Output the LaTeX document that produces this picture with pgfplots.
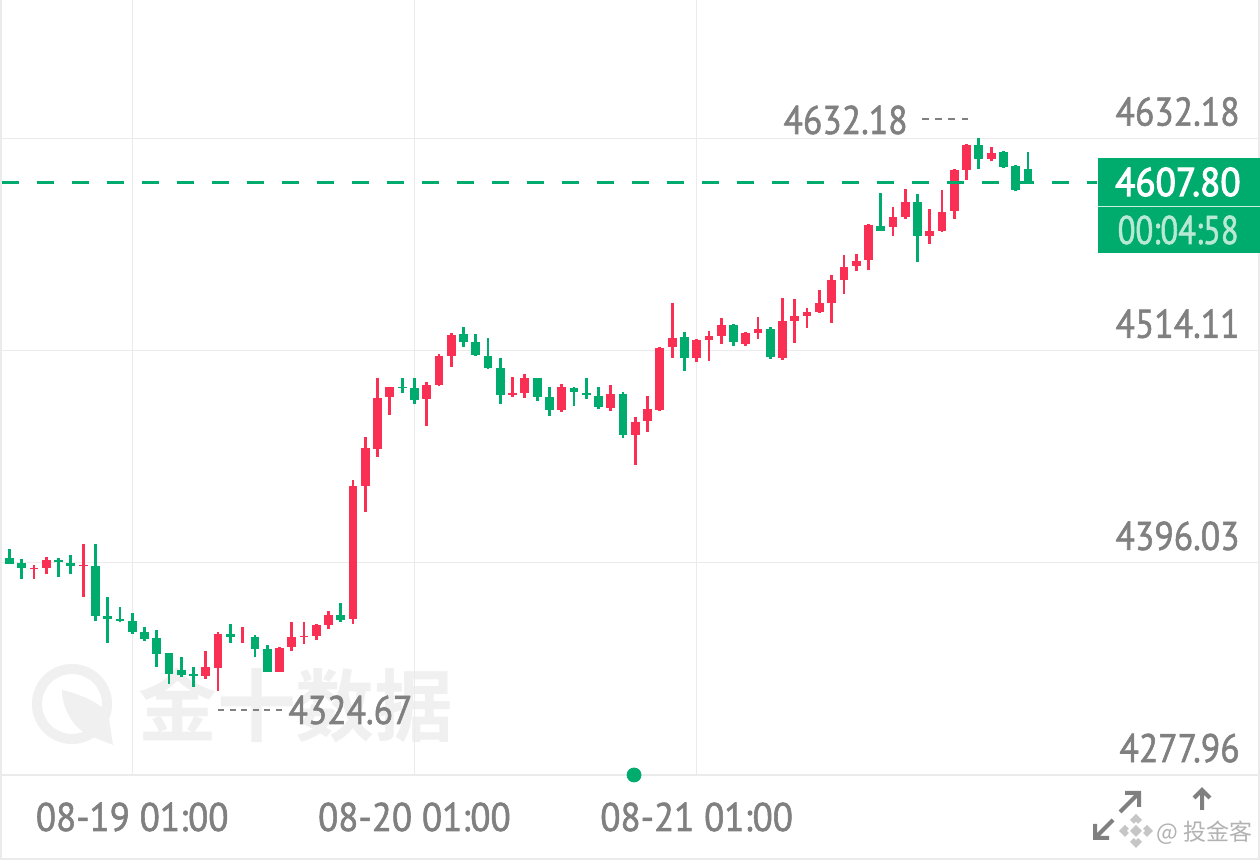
\documentclass[border=0pt]{standalone}
\usepackage{pgfplots}
\usepackage{pgfplotstable}
\usepackage{fontspec}
\pgfplotsset{compat=1.18}
\setmainfont{PT Sans}
\newfontfamily\din[FakeStretch=0.89,FakeBold=1.4]{PT Sans}
\newfontfamily\dinx[FakeStretch=0.925,FakeBold=1.4]{PT Sans}
\newfontfamily\dint[FakeStretch=0.815,FakeBold=1.4]{PT Sans}
\newfontfamily\dinb[FakeStretch=0.93,FakeBold=2.6]{PT Sans}
\newfontfamily\cjkb{Noto Sans CJK SC Bold}
\newfontfamily\cjk{Noto Sans CJK SC}
\definecolor{upred}{HTML}{F92F53}
\definecolor{downgreen}{HTML}{00AC6D}
\definecolor{gridc}{HTML}{EBEBEB}
\definecolor{txt}{HTML}{808080}
\definecolor{wm}{HTML}{F0F0F0}
\pgfplotstableread{
x h t b l
2 4394.8 4393.3 4392.6 4386.9
3 4399.3 4397.6 4393.0 4389.7
6 4406.5 4394.6 4394.1 4377.0
16 4347.1 4338.1 4333.1 4331.4
17 4357.4 4356.4 4337.7 4324.67
19 4360.2 4360.2 4360.2 4351.6
22 4349.2 4348.8 4335.3 4335.3
23 4362.9 4354.6 4349.0 4347.1
24 4362.9 4355.5 4354.8 4350.9
25 4361.8 4361.4 4355.5 4353.1
26 4369.2 4366.8 4361.6 4359.4
28 4442.1 4438.8 4364.9 4362.0
29 4465.9 4459.8 4438.8 4424.5
30 4498.7 4488.0 4459.4 4455.1
31 4493.7 4493.7 4488.2 4478.1
34 4496.7 4495.0 4487.0 4472.0
35 4512.1 4511.3 4494.8 4494.4
36 4523.8 4522.8 4511.3 4505.2
41 4499.6 4490.4 4489.3 4488.3
42 4501.0 4498.7 4490.5 4487.8
45 4495.7 4493.7 4481.1 4480.0
49 4494.8 4490.0 4482.4 4480.5
51 4477.0 4474.6 4467.0 4450.5
52 4489.0 4481.5 4474.9 4469.0
53 4516.1 4515.7 4481.3 4480.7
54 4540.8 4521.3 4516.0 4510.2
56 4520.4 4519.9 4510.0 4507.6
57 4525.0 4522.1 4519.9 4508.2
58 4532.1 4528.4 4522.1 4518.0
60 4524.3 4523.9 4517.8 4516.9
61 4532.7 4526.2 4523.9 4520.8
63 4543.4 4530.6 4510.0 4508.7
64 4542.8 4533.4 4530.6 4518.4
65 4538.0 4535.4 4533.6 4526.7
66 4547.7 4540.5 4535.6 4535.2
67 4556.2 4553.4 4540.6 4529.5
68 4567.3 4560.8 4553.4 4545.6
69 4567.9 4564.2 4561.2 4558.6
70 4584.6 4584.2 4564.4 4559.0
72 4594.1 4588.3 4582.8 4578.1
73 4604.2 4596.8 4588.5 4587.2
75 4592.8 4580.7 4578.1 4573.3
76 4603.5 4591.3 4580.5 4580.2
77 4615.0 4614.6 4591.8 4587.4
78 4629.1 4628.7 4614.6 4609.1
80 4627.4 4624.3 4620.6 4619.5
}\upT
\pgfplotstableread{
x h t b l
0 4403.6 4398.9 4395.6 4395.6
1 4398.2 4395.8 4393.0 4386.9
4 4398.6 4397.8 4396.3 4388.3
5 4400.4 4396.1 4394.4 4389.7
7 4406.5 4394.4 4366.4 4363.7
8 4377.2 4366.4 4364.6 4351.6
9 4371.3 4364.6 4363.5 4362.9
10 4367.9 4363.5 4357.4 4356.4
11 4360.5 4357.7 4353.6 4352.5
12 4358.5 4354.0 4345.3 4338.1
13 4346.0 4345.7 4334.2 4328.8
14 4343.6 4336.4 4333.4 4332.7
15 4338.1 4334.2 4333.1 4327.1
18 4361.8 4356.4 4354.8 4351.4
20 4355.9 4355.0 4348.3 4343.8
21 4350.1 4348.3 4335.1 4335.1
27 4373.7 4367.0 4364.1 4363.1
32 4499.1 4493.9 4493.2 4490.5
33 4498.7 4493.3 4486.8 4484.3
37 4527.3 4523.5 4518.8 4516.3
38 4523.5 4518.8 4511.7 4511.1
39 4521.0 4511.3 4504.6 4503.9
40 4509.9 4504.3 4489.6 4484.3
43 4499.1 4498.9 4488.5 4486.3
44 4493.9 4488.3 4481.1 4477.7
46 4493.7 4493.3 4491.1 4483.3
47 4498.7 4490.5 4489.4 4487.0
48 4493.9 4489.0 4482.6 4481.8
50 4491.1 4490.0 4467.0 4465.3
55 4524.7 4521.5 4510.0 4502.6
59 4529.0 4528.4 4519.1 4516.7
62 4527.1 4526.0 4510.4 4509.6
71 4601.7 4583.5 4580.9 4580.5
74 4601.3 4596.8 4578.1 4563.6
79 4632.18 4628.7 4620.8 4615.4
81 4625.4 4624.5 4616.3 4615.8
82 4617.4 4616.9 4603.5 4603.2
83 4624.5 4615.4 4607.80 4607.80
}\downT
\newcommand{\candles}[2]{%
 \addplot[draw=none,mark=none,forget plot,error bars/.cd,y dir=both,y explicit,error mark=none,
   error bar style={draw=#2,line width=1.4pt,solid}]
   table[x=x,y=t,y error plus expr=\thisrow{h}-\thisrow{t},y error minus expr=\thisrow{t}-\thisrow{l}] {#1};
 \addplot[draw=none,mark=none,forget plot,error bars/.cd,y dir=minus,y explicit,error mark=none,
   error bar style={draw=#2,line width=4.4pt,solid}]
   table[x=x,y=t,y error minus expr=\thisrow{t}-\thisrow{b}] {#1};
}
\begin{document}
\begin{tikzpicture}
\useasboundingbox (0,0) rectangle (630pt,430pt);
% pixel coordinates of the reference for furniture
\begin{scope}[yshift=430pt,x=.5pt,y=-.5pt]
 \fill[white] (0,0) rectangle (1260,860);
 \draw[wm,line width=5pt] (72,704) circle (35);
 \fill[wm] (62,690) .. controls (85,695) and (100,705) .. (108,712) -- (113,745) -- (88,735) .. controls (70,725) and (62,705) .. (62,690);
 \node[anchor=west,inner sep=0pt,text=wm,font=\cjkb\fontsize{39.4pt}{39.4pt}\selectfont] at (138,705) {金十数据};
\end{scope}
\begin{axis}[
 at={(0pt,42.5pt)},anchor=south west,scale only axis,
 width=630pt,height=387.5pt,
 xmin=-0.774,xmax=101.91,ymin=4277.96,ymax=4709.25,
 clip=false,
 axis line style={draw=none},
 tick style={draw=none},
 xtick={10,33,56},
 xticklabels={08-19 01:00,08-20 01:00,08-21 01:00},
 ytick={4277.96,4396.03,4514.11,4632.18},
 yticklabels={4277.96,4396.03,4514.11,4632.18},
 yticklabel pos=right,
 xmajorgrids,ymajorgrids,
 major grid style={gridc,line width=0.6pt},
 yticklabel style={anchor=south east,xshift=-8pt,yshift=4pt,text=txt,inner sep=2pt,font=\din\fontsize{20pt}{20pt}\selectfont},
 xticklabel style={anchor=center,yshift=-21pt,text=txt,font=\dinx\fontsize{20pt}{20pt}\selectfont},
 /pgf/number format/assume math mode=true,
]
\candles{\upT}{upred}
\candles{\downT}{downgreen}
\addplot[downgreen,line width=1.4pt,dash pattern=on 8.75pt off 8.75pt,forget plot] coordinates {(-0.636,4607.80) (88.63,4607.80)};
\addplot[only marks,mark=*,mark size=3.5pt,mark options={fill=downgreen,draw=downgreen},forget plot] coordinates {(50.9,4277.96)};
\end{axis}
\begin{scope}[yshift=430pt,x=.5pt,y=-.5pt]
 \draw[gridc,line width=.6pt] (1,0) -- (1,859) -- (1259,859) -- (1259,0);
 % price tag
 \fill[downgreen] (1098,158) rectangle (1260,253);
 \draw[white,opacity=.8,line width=.5pt] (1098,207) -- (1260,207);
 \node[anchor=east,inner sep=0pt,text=white,font=\dinb\fontsize{20pt}{20pt}\selectfont] at (1241,182) {4607.80};
 \node[anchor=east,inner sep=0pt,text=white!72!downgreen,font=\dint\fontsize{20pt}{20pt}\selectfont] at (1239,230) {00:04:58};
 % max and min
 \node[anchor=east,inner sep=0pt,text=txt,font=\din\fontsize{20pt}{20pt}\selectfont] at (908,120) {4632.18};
 \draw[txt,line width=1.2pt,dash pattern=on 3.4pt off 3.2pt] (922,119) -- (972,119);
 \node[anchor=west,inner sep=0pt,text=txt,font=\din\fontsize{20pt}{20pt}\selectfont] at (288,710) {4324.67};
 \draw[txt,line width=1.2pt,dash pattern=on 3pt off 2.8pt] (218,710) -- (282,710);
 % icons
 \draw[txt,line width=2pt] (1120,812) -- (1139,793) (1125,793) -- (1139,793) -- (1139,807);
 \draw[txt,line width=2pt] (1113,820) -- (1095,838) (1095,824) -- (1095,838) -- (1109,838);
 \draw[txt,line width=2pt] (1202,810) -- (1202,790) (1194,798) -- (1202,790) -- (1210,798);
 \draw[txt,line width=2pt] (1202,825) -- (1202,845) (1194,837) -- (1202,845) -- (1210,837);
 % mark
 \foreach \cx/\cy in {1136/820,1136/842,1125/831,1147/831,1136/831}{
  \fill[white] (\cx-9,\cy) -- (\cx,\cy-9) -- (\cx+9,\cy) -- (\cx,\cy+9) -- cycle;
  \fill[gray!45] (\cx-6,\cy) -- (\cx,\cy-6) -- (\cx+6,\cy) -- (\cx,\cy+6) -- cycle;
 }
 \fill[white] (1153,818) rectangle (1254,848);
 \node[anchor=west,inner sep=0pt,text=gray!60,font=\cjk\fontsize{11.5pt}{11.5pt}\selectfont] at (1156,833) {@ 投金客};
\end{scope}
\end{tikzpicture}
\end{document}
